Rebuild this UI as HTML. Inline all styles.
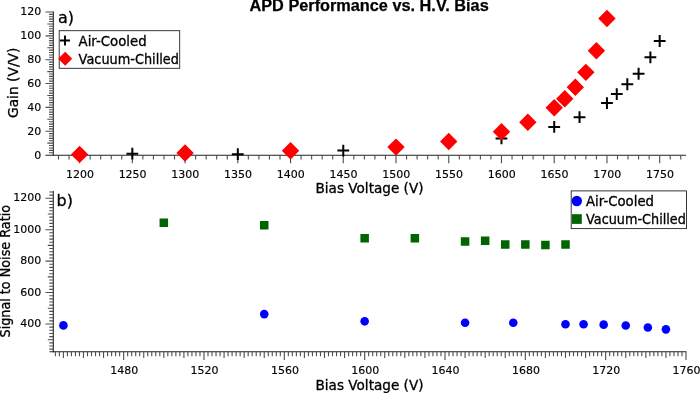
<!DOCTYPE html>
<html lang="en"><head><meta charset="utf-8"><title>APD Performance vs. H.V. Bias</title>
<style>html,body{margin:0;padding:0;background:#fff;overflow:hidden}svg{display:block}</style>
</head><body>
<svg width="700" height="393" viewBox="0 0 700 393">
<rect width="700" height="393" fill="#fff"/>
<g stroke="#222" stroke-width="1.1" fill="none">
<path d="M53.3 11.50V155.70"/>
<path d="M45.5 155.20H686"/>
<path stroke="#4d4d4d" d="M49.00 152.72H53.3M49.00 150.33H53.3M49.00 147.94H53.3M49.00 145.56H53.3M47.30 143.17H53.3M49.00 140.79H53.3M49.00 138.41H53.3M49.00 136.02H53.3M49.00 133.63H53.3M45.50 131.25H53.3M49.00 128.87H53.3M49.00 126.48H53.3M49.00 124.09H53.3M49.00 121.71H53.3M47.30 119.32H53.3M49.00 116.94H53.3M49.00 114.56H53.3M49.00 112.17H53.3M49.00 109.78H53.3M45.50 107.40H53.3M49.00 105.02H53.3M49.00 102.63H53.3M49.00 100.25H53.3M49.00 97.86H53.3M47.30 95.47H53.3M49.00 93.09H53.3M49.00 90.70H53.3M49.00 88.32H53.3M49.00 85.94H53.3M45.50 83.55H53.3M49.00 81.17H53.3M49.00 78.78H53.3M49.00 76.39H53.3M49.00 74.01H53.3M47.30 71.62H53.3M49.00 69.24H53.3M49.00 66.86H53.3M49.00 64.47H53.3M49.00 62.09H53.3M45.50 59.70H53.3M49.00 57.31H53.3M49.00 54.93H53.3M49.00 52.55H53.3M49.00 50.16H53.3M47.30 47.78H53.3M49.00 45.39H53.3M49.00 43.01H53.3M49.00 40.62H53.3M49.00 38.23H53.3M45.50 35.85H53.3M49.00 33.47H53.3M49.00 31.08H53.3M49.00 28.70H53.3M49.00 26.31H53.3M47.30 23.93H53.3M49.00 21.54H53.3M49.00 19.16H53.3M49.00 16.77H53.3M49.00 14.39H53.3M45.50 12.00H53.3"/>
<path stroke="#4d4d4d" d="M58.51 155.2v4.3M69.05 155.2v4.3M79.60 155.2v8M90.15 155.2v4.3M100.69 155.2v4.3M111.24 155.2v4.3M121.79 155.2v4.3M132.33 155.2v8M142.88 155.2v4.3M153.43 155.2v4.3M163.98 155.2v4.3M174.52 155.2v4.3M185.07 155.2v8M195.62 155.2v4.3M206.16 155.2v4.3M216.71 155.2v4.3M227.26 155.2v4.3M237.80 155.2v8M248.35 155.2v4.3M258.90 155.2v4.3M269.45 155.2v4.3M279.99 155.2v4.3M290.54 155.2v8M301.09 155.2v4.3M311.63 155.2v4.3M322.18 155.2v4.3M332.73 155.2v4.3M343.27 155.2v8M353.82 155.2v4.3M364.37 155.2v4.3M374.92 155.2v4.3M385.46 155.2v4.3M396.01 155.2v8M406.56 155.2v4.3M417.10 155.2v4.3M427.65 155.2v4.3M438.20 155.2v4.3M448.75 155.2v8M459.29 155.2v4.3M469.84 155.2v4.3M480.39 155.2v4.3M490.93 155.2v4.3M501.48 155.2v8M512.03 155.2v4.3M522.57 155.2v4.3M533.12 155.2v4.3M543.67 155.2v4.3M554.22 155.2v8M564.76 155.2v4.3M575.31 155.2v4.3M585.86 155.2v4.3M596.40 155.2v4.3M606.95 155.2v8M617.50 155.2v4.3M628.04 155.2v4.3M638.59 155.2v4.3M649.14 155.2v4.3M659.69 155.2v8M670.23 155.2v4.3M680.78 155.2v4.3"/>
</g>
<g stroke="#222" stroke-width="1.1" fill="none">
<path d="M53.3 191V352.3"/>
<path d="M49.5 351.8H686.5"/>
<path stroke="#4d4d4d" d="M49.30 349.15H53.3M49.30 346.01H53.3M49.30 342.86H53.3M47.80 339.72H53.3M49.30 336.58H53.3M49.30 333.43H53.3M49.30 330.29H53.3M49.30 327.14H53.3M45.50 324.00H53.3M49.30 320.86H53.3M49.30 317.71H53.3M49.30 314.57H53.3M49.30 311.42H53.3M47.80 308.28H53.3M49.30 305.14H53.3M49.30 301.99H53.3M49.30 298.85H53.3M49.30 295.70H53.3M45.50 292.56H53.3M49.30 289.42H53.3M49.30 286.27H53.3M49.30 283.13H53.3M49.30 279.98H53.3M47.80 276.84H53.3M49.30 273.70H53.3M49.30 270.55H53.3M49.30 267.41H53.3M49.30 264.26H53.3M45.50 261.12H53.3M49.30 257.98H53.3M49.30 254.83H53.3M49.30 251.69H53.3M49.30 248.54H53.3M47.80 245.40H53.3M49.30 242.26H53.3M49.30 239.11H53.3M49.30 235.97H53.3M49.30 232.82H53.3M45.50 229.68H53.3M49.30 226.54H53.3M49.30 223.39H53.3M49.30 220.25H53.3M49.30 217.10H53.3M47.80 213.96H53.3M49.30 210.82H53.3M49.30 207.67H53.3M49.30 204.53H53.3M49.30 201.38H53.3M45.50 198.24H53.3M49.30 195.10H53.3M49.30 191.95H53.3"/>
<path stroke="#4d4d4d" d="M55.36 351.8v4.5M59.38 351.8v4.5M63.40 351.8v6.3M67.41 351.8v4.5M71.43 351.8v4.5M75.45 351.8v4.5M79.46 351.8v4.5M83.48 351.8v6.3M87.50 351.8v4.5M91.51 351.8v4.5M95.53 351.8v4.5M99.55 351.8v4.5M103.56 351.8v6.3M107.58 351.8v4.5M111.60 351.8v4.5M115.61 351.8v4.5M119.63 351.8v4.5M123.65 351.8v8.2M127.66 351.8v4.5M131.68 351.8v4.5M135.70 351.8v4.5M139.72 351.8v4.5M143.73 351.8v6.3M147.75 351.8v4.5M151.77 351.8v4.5M155.78 351.8v4.5M159.80 351.8v4.5M163.82 351.8v6.3M167.83 351.8v4.5M171.85 351.8v4.5M175.87 351.8v4.5M179.88 351.8v4.5M183.90 351.8v6.3M187.92 351.8v4.5M191.93 351.8v4.5M195.95 351.8v4.5M199.97 351.8v4.5M203.98 351.8v8.2M208.00 351.8v4.5M212.02 351.8v4.5M216.03 351.8v4.5M220.05 351.8v4.5M224.07 351.8v6.3M228.08 351.8v4.5M232.10 351.8v4.5M236.12 351.8v4.5M240.14 351.8v4.5M244.15 351.8v6.3M248.17 351.8v4.5M252.19 351.8v4.5M256.20 351.8v4.5M260.22 351.8v4.5M264.24 351.8v6.3M268.25 351.8v4.5M272.27 351.8v4.5M276.29 351.8v4.5M280.30 351.8v4.5M284.32 351.8v8.2M288.34 351.8v4.5M292.35 351.8v4.5M296.37 351.8v4.5M300.39 351.8v4.5M304.40 351.8v6.3M308.42 351.8v4.5M312.44 351.8v4.5M316.45 351.8v4.5M320.47 351.8v4.5M324.49 351.8v6.3M328.50 351.8v4.5M332.52 351.8v4.5M336.54 351.8v4.5M340.56 351.8v4.5M344.57 351.8v6.3M348.59 351.8v4.5M352.61 351.8v4.5M356.62 351.8v4.5M360.64 351.8v4.5M364.66 351.8v8.2M368.67 351.8v4.5M372.69 351.8v4.5M376.71 351.8v4.5M380.72 351.8v4.5M384.74 351.8v6.3M388.76 351.8v4.5M392.77 351.8v4.5M396.79 351.8v4.5M400.81 351.8v4.5M404.82 351.8v6.3M408.84 351.8v4.5M412.86 351.8v4.5M416.87 351.8v4.5M420.89 351.8v4.5M424.91 351.8v6.3M428.92 351.8v4.5M432.94 351.8v4.5M436.96 351.8v4.5M440.98 351.8v4.5M444.99 351.8v8.2M449.01 351.8v4.5M453.03 351.8v4.5M457.04 351.8v4.5M461.06 351.8v4.5M465.08 351.8v6.3M469.09 351.8v4.5M473.11 351.8v4.5M477.13 351.8v4.5M481.14 351.8v4.5M485.16 351.8v6.3M489.18 351.8v4.5M493.19 351.8v4.5M497.21 351.8v4.5M501.23 351.8v4.5M505.24 351.8v6.3M509.26 351.8v4.5M513.28 351.8v4.5M517.29 351.8v4.5M521.31 351.8v4.5M525.33 351.8v8.2M529.34 351.8v4.5M533.36 351.8v4.5M537.38 351.8v4.5M541.40 351.8v4.5M545.41 351.8v6.3M549.43 351.8v4.5M553.45 351.8v4.5M557.46 351.8v4.5M561.48 351.8v4.5M565.50 351.8v6.3M569.51 351.8v4.5M573.53 351.8v4.5M577.55 351.8v4.5M581.56 351.8v4.5M585.58 351.8v6.3M589.60 351.8v4.5M593.61 351.8v4.5M597.63 351.8v4.5M601.65 351.8v4.5M605.66 351.8v8.2M609.68 351.8v4.5M613.70 351.8v4.5M617.71 351.8v4.5M621.73 351.8v4.5M625.75 351.8v6.3M629.76 351.8v4.5M633.78 351.8v4.5M637.80 351.8v4.5M641.82 351.8v4.5M645.83 351.8v6.3M649.85 351.8v4.5M653.87 351.8v4.5M657.88 351.8v4.5M661.90 351.8v4.5M665.92 351.8v6.3M669.93 351.8v4.5M673.95 351.8v4.5M677.97 351.8v4.5M681.98 351.8v4.5M686.00 351.8v8.2"/>
</g>
<g font-family='"DejaVu Sans","Liberation Sans",sans-serif' font-size="11.0" fill="#000" stroke="#000" stroke-width="0.15">
<text x="41.3" y="158.50" text-anchor="end">0</text>
<text x="41.3" y="134.65" text-anchor="end">20</text>
<text x="41.3" y="110.80" text-anchor="end">40</text>
<text x="41.3" y="86.95" text-anchor="end">60</text>
<text x="41.3" y="63.10" text-anchor="end">80</text>
<text x="41.3" y="39.25" text-anchor="end">100</text>
<text x="41.3" y="15.40" text-anchor="end">120</text>
<text x="79.90" y="178" text-anchor="middle">1200</text>
<text x="132.63" y="178" text-anchor="middle">1250</text>
<text x="185.37" y="178" text-anchor="middle">1300</text>
<text x="238.10" y="178" text-anchor="middle">1350</text>
<text x="290.84" y="178" text-anchor="middle">1400</text>
<text x="343.57" y="178" text-anchor="middle">1450</text>
<text x="396.31" y="178" text-anchor="middle">1500</text>
<text x="449.05" y="178" text-anchor="middle">1550</text>
<text x="501.78" y="178" text-anchor="middle">1600</text>
<text x="554.51" y="178" text-anchor="middle">1650</text>
<text x="607.25" y="178" text-anchor="middle">1700</text>
<text x="659.99" y="178" text-anchor="middle">1750</text>
<text x="41.3" y="327.20" text-anchor="end">400</text>
<text x="41.3" y="295.76" text-anchor="end">600</text>
<text x="41.3" y="264.32" text-anchor="end">800</text>
<text x="41.3" y="232.88" text-anchor="end">1000</text>
<text x="41.3" y="201.44" text-anchor="end">1200</text>
<text x="124.25" y="374.1" text-anchor="middle">1480</text>
<text x="204.58" y="374.1" text-anchor="middle">1520</text>
<text x="284.92" y="374.1" text-anchor="middle">1560</text>
<text x="365.26" y="374.1" text-anchor="middle">1600</text>
<text x="445.59" y="374.1" text-anchor="middle">1640</text>
<text x="525.93" y="374.1" text-anchor="middle">1680</text>
<text x="606.26" y="374.1" text-anchor="middle">1720</text>
<text x="686.60" y="374.1" text-anchor="middle">1760</text>
</g>
<path d="M126.43 153.67h11.8M132.33 147.77v11.8M231.90 154.15h11.8M237.80 148.25v11.8M337.38 150.57h11.8M343.27 144.67v11.8M495.58 138.41h11.8M501.48 132.50v11.8M548.32 126.96h11.8M554.22 121.06v11.8M573.63 117.18h11.8M579.53 111.28v11.8M601.05 103.11h11.8M606.95 97.21v11.8M610.86 94.04h11.8M616.76 88.14v11.8M621.41 84.27h11.8M627.31 78.37v11.8M632.69 73.77h11.8M638.59 67.87v11.8M644.50 57.31h11.8M650.40 51.41v11.8M653.79 40.98h11.8M659.69 35.08v11.8" stroke="#000" stroke-width="2" fill="none"/>
<path d="M70.90 154.38L79.60 145.68L88.30 154.38L79.60 163.08ZM176.37 152.95L185.07 144.25L193.77 152.95L185.07 161.65ZM281.84 150.69L290.54 141.99L299.24 150.69L290.54 159.39ZM387.31 147.11L396.01 138.41L404.71 147.11L396.01 155.81ZM440.05 141.51L448.75 132.81L457.44 141.51L448.75 150.21ZM492.78 131.73L501.48 123.03L510.18 131.73L501.48 140.43ZM519.15 122.31L527.85 113.61L536.55 122.31L527.85 131.01ZM545.51 107.76L554.22 99.06L562.92 107.76L554.22 116.46ZM556.06 98.69L564.76 89.99L573.46 98.69L564.76 107.39ZM566.61 87.25L575.31 78.55L584.01 87.25L575.31 95.95ZM577.16 72.34L585.86 63.64L594.56 72.34L585.86 81.04ZM587.70 50.76L596.40 42.06L605.10 50.76L596.40 59.46ZM598.25 18.56L606.95 9.86L615.65 18.56L606.95 27.26Z" fill="#fe0000"/>
<circle cx="63.40" cy="325.41" r="4.3" fill="#0000fe"/>
<circle cx="264.24" cy="314.10" r="4.3" fill="#0000fe"/>
<circle cx="364.66" cy="321.33" r="4.3" fill="#0000fe"/>
<circle cx="465.08" cy="322.74" r="4.3" fill="#0000fe"/>
<circle cx="513.28" cy="322.74" r="4.3" fill="#0000fe"/>
<circle cx="565.50" cy="324.31" r="4.3" fill="#0000fe"/>
<circle cx="583.57" cy="324.31" r="4.3" fill="#0000fe"/>
<circle cx="603.66" cy="324.63" r="4.3" fill="#0000fe"/>
<circle cx="625.75" cy="325.57" r="4.3" fill="#0000fe"/>
<circle cx="647.84" cy="327.46" r="4.3" fill="#0000fe"/>
<circle cx="665.92" cy="329.34" r="4.3" fill="#0000fe"/>
<path d="M159.57 218.51h8.5v8.5h-8.5zM259.99 221.03h8.5v8.5h-8.5zM360.41 233.92h8.5v8.5h-8.5zM410.62 233.92h8.5v8.5h-8.5zM460.83 237.22h8.5v8.5h-8.5zM480.91 236.59h8.5v8.5h-8.5zM500.99 240.21h8.5v8.5h-8.5zM521.08 240.21h8.5v8.5h-8.5zM541.16 240.84h8.5v8.5h-8.5zM561.25 240.21h8.5v8.5h-8.5z" fill="#006400"/>
<rect x="59.2" y="30.7" width="120.5" height="37.6" fill="#fff" stroke="#222" stroke-width="0.9"/>
<path d="M60 40.5h10M65 35.5v10" stroke="#000" stroke-width="1.9" fill="none"/>
<path d="M58.2 58.7L65.2 51.7L72.2 58.7L65.2 65.7Z" fill="#fe0000"/>
<g font-family='"DejaVu Sans","Liberation Sans",sans-serif' font-size="13.3" fill="#000" stroke="#000" stroke-width="0.3">
<text x="78.6" y="45.5" textLength="68" lengthAdjust="spacingAndGlyphs">Air-Cooled</text>
<text x="78.6" y="63.8" textLength="100.3" lengthAdjust="spacingAndGlyphs">Vacuum-Chilled</text>
</g>
<rect x="571.2" y="190.9" width="115.3" height="37.7" fill="#fff" stroke="#222" stroke-width="0.9"/>
<circle cx="576.8" cy="201" r="5.2" fill="#0000fe"/>
<rect x="572" y="214.2" width="9.8" height="9.7" fill="#006400"/>
<g font-family='"DejaVu Sans","Liberation Sans",sans-serif' font-size="13.3" fill="#000" stroke="#000" stroke-width="0.3">
<text x="586" y="205.7" textLength="68" lengthAdjust="spacingAndGlyphs">Air-Cooled</text>
<text x="586" y="224.3" textLength="99.9" lengthAdjust="spacingAndGlyphs">Vacuum-Chilled</text>
</g>
<g font-family='"DejaVu Sans","Liberation Sans",sans-serif' fill="#000" stroke="#000" stroke-width="0.3">
<text x="58" y="23" font-size="16">a)</text>
<text x="56.6" y="205.6" font-size="16">b)</text>
<text x="369.5" y="193.4" font-size="13.3" text-anchor="middle" textLength="108" lengthAdjust="spacingAndGlyphs">Bias Voltage (V)</text>
<text x="369.5" y="389.7" font-size="13.3" text-anchor="middle" textLength="108" lengthAdjust="spacingAndGlyphs">Bias Voltage (V)</text>
<text transform="translate(18 82.8) rotate(-90)" font-size="13.3" text-anchor="middle" textLength="70.5" lengthAdjust="spacingAndGlyphs">Gain (V/V)</text>
<text transform="translate(9.8 271.2) rotate(-90)" font-size="13.3" text-anchor="middle" textLength="132.5" lengthAdjust="spacingAndGlyphs">Signal to Noise Ratio</text>
</g>
<text x="369.1" y="11.2" font-family='"Liberation Sans",Arial,sans-serif' font-weight="bold" font-size="16.3" text-anchor="middle" fill="#000" stroke="#000" stroke-width="0.25">APD Performance vs. H.V. Bias</text>
</svg>
</body></html>
